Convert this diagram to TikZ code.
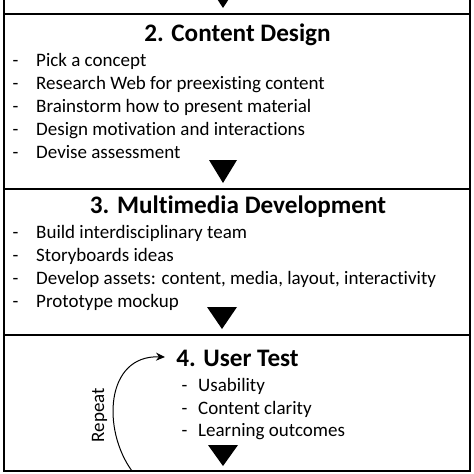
\documentclass[tikz,border=0pt]{standalone}
\usepackage{fontspec}
\setmainfont{Carlito}[Ligatures=NoCommon]
\usetikzlibrary{arrows.meta}
\begin{document}
\begin{tikzpicture}[x=1pt,y=-1pt,
  stage/.style={draw=black,line width=1.7pt,minimum width=466pt,inner sep=0pt,outer sep=0pt},
  head/.style={font=\fontsize{25.2}{30}\selectfont\bfseries,inner sep=0pt,anchor=base},
  item/.style={font=\fontsize{19}{23}\selectfont,inner sep=0pt,anchor=base west},
  tri/.style={fill=black}
]
\useasboundingbox (0,0) rectangle (474,474);
\clip (0,0) rectangle (474,474);
% stage boxes
\node[stage,minimum height=40pt,anchor=south west] (s1) at (4,14) {};
\node[stage,minimum height=175pt,anchor=north west] (s2) at (4,14) {};
\node[stage,minimum height=146pt,anchor=north west] (s3) at (4,189) {};
\node[stage,minimum height=136pt,anchor=north west] (s4) at (4,335) {};
\draw[line width=2.6pt] (s4.south west) -- (s4.south east);
% triangles
\fill[tri] (208,-15) -- (238,-15) -- (223,8) -- cycle;
\fill[tri] (209,160) -- (237,160) -- (223,183) -- cycle;
\fill[tri] (207,307) -- (237,307) -- (222,329) -- cycle;
\fill[tri] (208,445) -- (238,445) -- (223,466) -- cycle;
% headings
\node[head] (h2) at (237.5,41) {2. Content Design};
\node[head] (h3) at (238,213) {3. Multimedia Development};
\node[head] (h4) at (237.5,366) {4. User Test};
% items box 2
\foreach \t [count=\i] in {Pick a concept, Research Web for preexisting content, Brainstorm how to present material, Design motivation and interactions, Devise assessment}{
  \node[item] (d2-\i) at (12.5,{66.7+23*(\i-1)}) {-};
  \node[item] (i2-\i) at (36,{66.7+23*(\i-1)}) {\t};
}
% items box 3
\foreach \t [count=\i] in {Build interdisciplinary team, Storyboards ideas, {Develop assets: content, media, layout, interactivity}, Prototype mockup}{
  \node[item] (d3-\i) at (12.5,{238.3+23*(\i-1)}) {-};
  \node[item] (i3-\i) at (36,{238.3+23*(\i-1)}) {\t};
}
% items box 4
\foreach \t [count=\i] in {Usability, Content clarity, Learning outcomes}{
  \node[item] (d4-\i) at (181.5,{391.7+22.6*(\i-1)}) {-};
  \node[item] (i4-\i) at (198,{391.7+22.6*(\i-1)}) {\t};
}
% repeat loop
\coordinate (rs) at (132,471);
\coordinate (re) at (165,357);
\draw[line width=1pt,-{Stealth[length=9pt,width=8pt]}] (rs) .. controls (102,430) and (105,355) .. (re);
\node[font=\fontsize{19}{22}\selectfont,inner sep=0pt,anchor=base,rotate=90] (rep) at (104,415) {Repeat};
\end{tikzpicture}
\end{document}
